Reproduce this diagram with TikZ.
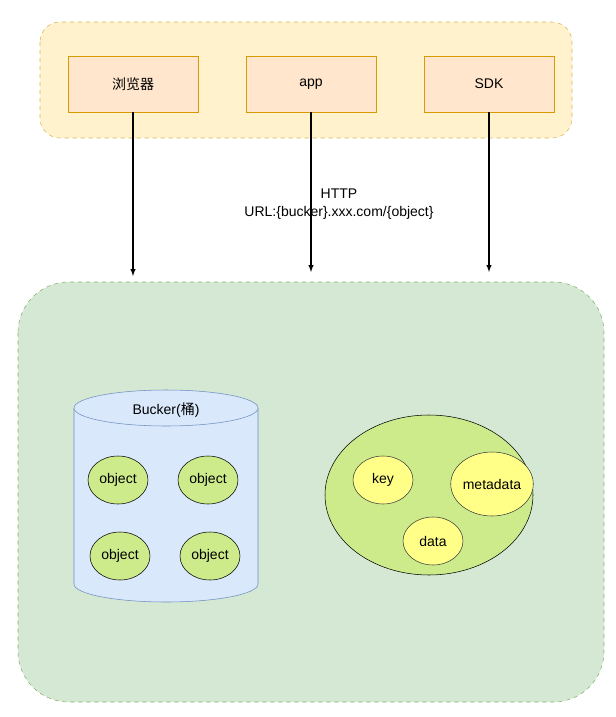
\documentclass[tikz,border=0pt]{standalone}
\usepackage{fontspec}
\setmainfont{Liberation Sans}
\newfontfamily\cjk{Noto Sans CJK SC}
\usetikzlibrary{shapes.geometric}
\definecolor{ylfill}{HTML}{FFF2CC}
\definecolor{yldraw}{HTML}{D6B656}
\definecolor{orfill}{HTML}{FFE6CC}
\definecolor{ordraw}{HTML}{D79B00}
\definecolor{grfill}{HTML}{D5E8D4}
\definecolor{grdraw}{HTML}{82B366}
\definecolor{blfill}{HTML}{DAE8FC}
\definecolor{bldraw}{HTML}{6C8EBF}
\definecolor{limefill}{HTML}{CDEB8B}
\definecolor{yelfill}{HTML}{FFFF88}
\definecolor{yeldraw}{HTML}{36393D}
\tikzset{
  client/.style={draw=ordraw,fill=orfill,minimum width=97.5pt,minimum height=42pt},
  obj/.style={ellipse,draw=black,fill=limefill,minimum width=45pt,minimum height=36pt,inner sep=0pt},
  field/.style={ellipse,draw=yeldraw,fill=yelfill,minimum width=45pt,minimum height=36pt,inner sep=0pt},
  link/.style={-latex,thick}
}
\begin{document}
\begin{tikzpicture}[x=0.75pt,y=-0.75pt,font=\fontsize{10.5}{13}\selectfont]
\useasboundingbox (0,0) rectangle (615,717);
% client area
\draw[yldraw,fill=ylfill,dashed,rounded corners=15pt] (40,22) rectangle (572,138);
\node[client] (browser) at (133,84) {\cjk 浏览器};
\node[client] (app) at (311,84) {app};
\node[client] (sdk) at (489,84) {SDK};
% storage area
\draw[grdraw,fill=grfill,dashed,rounded corners=38pt] (18,282) rectangle (604,702);
\coordinate (inb) at (133,276);
\coordinate (ina) at (311,272);
\coordinate (ins) at (489,272);
\draw[link] (browser) -- (inb);
\draw[link] (app) -- (ina);
\draw[link] (sdk) -- (ins);
\node[align=center] (url) at (339,204) {HTTP\\URL:\{bucker\}.xxx.com/\{object\}};
% bucket
\draw[bldraw,fill=blfill] (74,408) -- (74,584) arc (180:0:92 and 18) -- (258,408);
\draw[bldraw,fill=blfill] (166,408) ellipse (92 and 18);
\node (bucket) at (166,410) {Bucker({\cjk 桶})};
\node[obj] (o1) at (118,480) {object};
\node[obj] (o2) at (208,480) {object};
\node[obj] (o3) at (120,556) {object};
\node[obj] (o4) at (210,556) {object};
% object structure
\node[ellipse,draw=black,fill=limefill,minimum width=156pt,minimum height=120pt] (whole) at (429,495) {};
\node[field] (key) at (383,480) {key};
\node[field,minimum width=58pt,minimum height=48pt] (meta) at (492,484) {metadata};
\node[field] (data) at (433,541) {data};
\end{tikzpicture}
\end{document}
